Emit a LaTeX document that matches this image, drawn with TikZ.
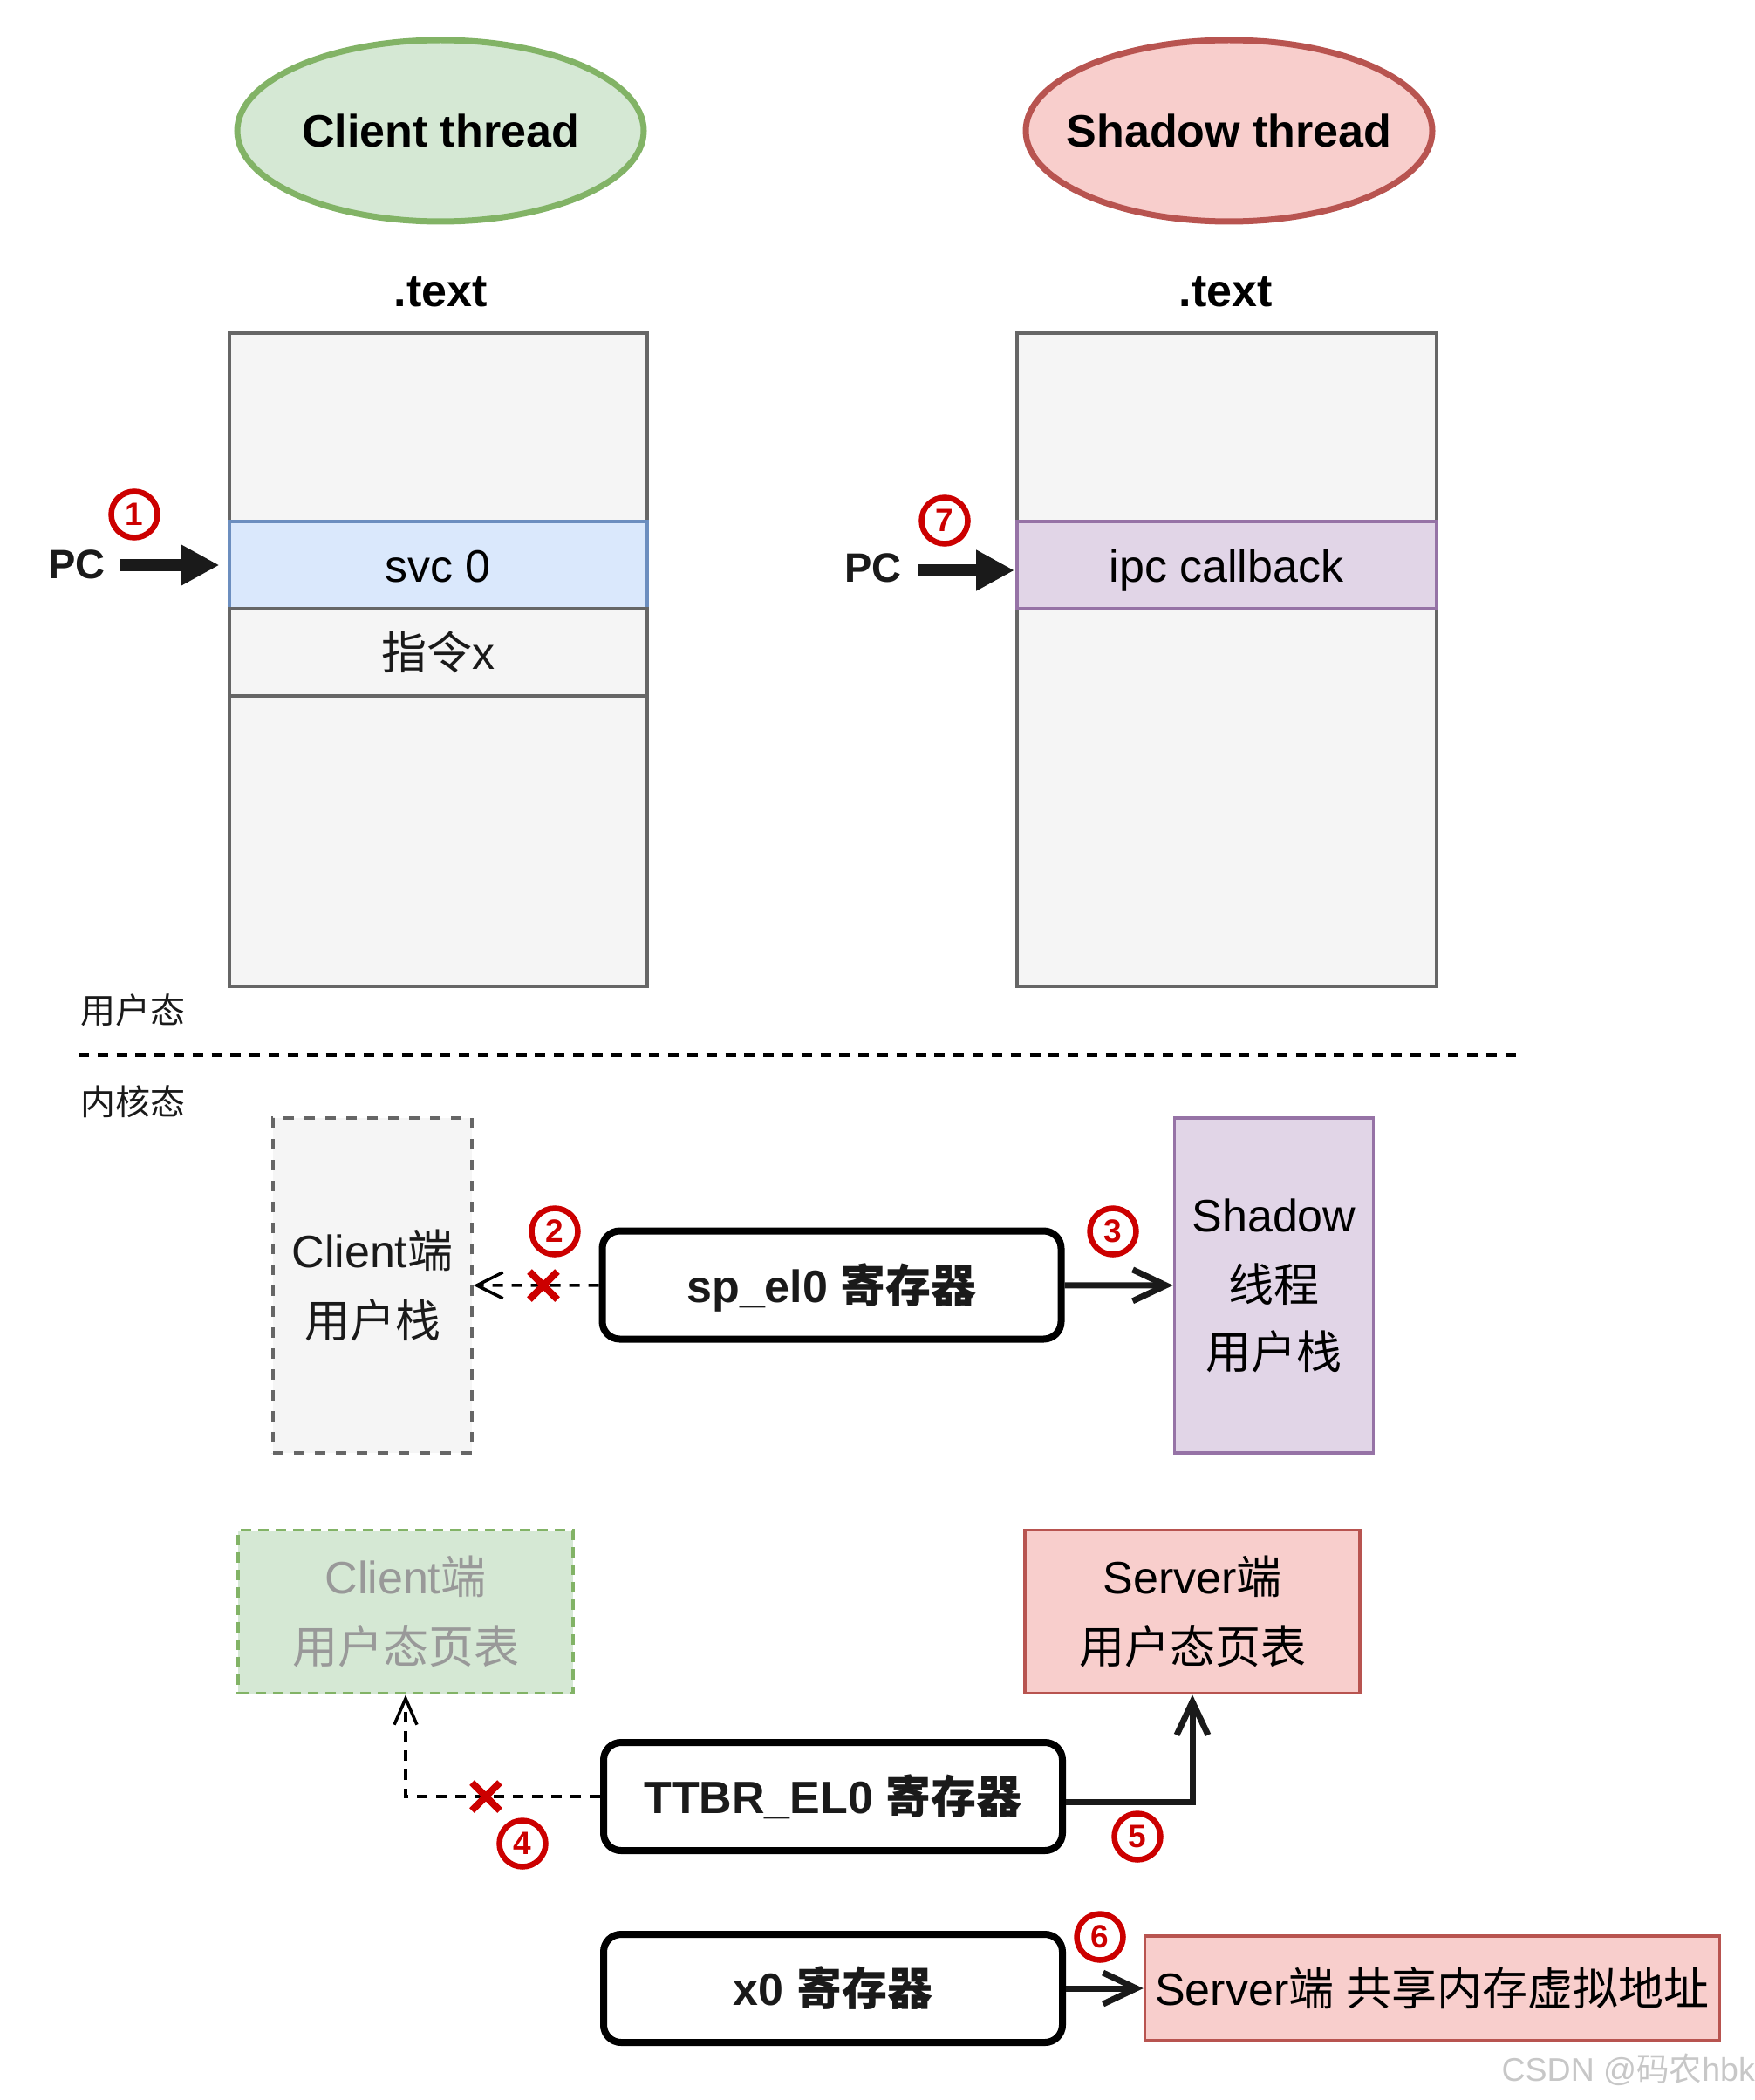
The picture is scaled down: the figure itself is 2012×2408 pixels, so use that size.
\documentclass[tikz,border=0pt]{standalone}
\usepackage{fontspec}
\setmainfont{Liberation Sans}
\newfontfamily\cjk{Noto Sans CJK SC}
\newcommand{\zh}[1]{{\cjk #1}}
\usetikzlibrary{arrows.meta,shapes.misc,shapes.geometric}
\definecolor{greenfill}{HTML}{D5E8D4}
\definecolor{greenline}{HTML}{82B366}
\definecolor{redfill}{HTML}{F8CECC}
\definecolor{redline}{HTML}{B85450}
\definecolor{bluefill}{HTML}{DAE8FC}
\definecolor{blueline}{HTML}{6C8EBF}
\definecolor{purplefill}{HTML}{E1D5E7}
\definecolor{purpleline}{HTML}{9673A6}
\definecolor{greyfill}{HTML}{F5F5F5}
\definecolor{greyline}{HTML}{666666}
\definecolor{marker}{HTML}{CC0000}
\definecolor{ink}{HTML}{1A1A1A}
\tikzset{
  bodytext/.style={font=\fontsize{52}{80}\selectfont, align=center, inner sep=0pt},
  boldtext/.style={font=\fontsize{52}{60}\selectfont\bfseries, inner sep=0pt},
  smalltext/.style={font=\fontsize{40}{48}\selectfont, text=ink, inner sep=0pt},
  thread/.style={ellipse, draw, line width=7pt, minimum width=466pt, minimum height=208pt, boldtext, inner xsep=-70pt},
  codebox/.style={rectangle, draw=greyline, fill=greyfill, line width=4pt, minimum width=479pt, inner sep=0pt, font=\fontsize{52}{60}\selectfont, text height=38pt, text depth=0pt},
  stackbox/.style={rectangle, line width=3.5pt, minimum width=228pt, minimum height=384pt, bodytext},
  pagebox/.style={rectangle, line width=3.5pt, minimum width=384pt, minimum height=187pt, bodytext},
  regbox/.style={rectangle, draw=black, line width=8pt, rounded corners=20pt, minimum width=526pt, minimum height=124pt, boldtext, text=ink, text height=39pt, text depth=0pt},
  num/.style={circle, draw=marker, fill=white, line width=6.5pt, minimum size=53pt, inner sep=0pt, text=marker, font=\fontsize{37}{40}\selectfont\bfseries},
  xmark/.style={cross out, draw=marker, line width=8pt, minimum width=24pt, minimum height=24pt, inner sep=0pt},
  pcarrow/.style={line width=14pt, color=ink, -{Triangle[length=44pt,width=44pt]}},
  solidlink/.style={line width=7pt, color=ink, -{Straight Barb[length=38pt,width=36pt]}},
  dashlink/.style={line width=3.5pt, color=black, dash pattern=on 12pt off 10pt, -{Straight Barb[length=30pt,width=30pt]}},
}
\begin{document}
\begin{tikzpicture}[x=1pt,y=-1pt]
\useasboundingbox (0,0) rectangle (2012,2408);
\node[thread, draw=greenline, fill=greenfill] (client) at (505,150){Client thread};
\node[thread, draw=redline, fill=redfill] (shadow) at (1409,150){Shadow thread};
\node[boldtext] (texta) at (505,335){.text};
\node[boldtext] (textb) at (1405,335){.text};
\node[codebox, minimum height=749pt] (coda) at (502,756.5){};
\node[codebox, minimum height=749pt, minimum width=481pt] (codb) at (1406,756.5){};
\node[codebox, draw=blueline, fill=bluefill, minimum height=100pt] (svc) at (502,648){svc 0};
\node[codebox, minimum height=100pt, text=ink] (instr) at (502,748){\zh{指令}x};
\node[codebox, draw=purpleline, fill=purplefill, minimum height=100pt, minimum width=481pt] (ipc) at (1406,648){ipc callback};
\node[boldtext, font=\fontsize{47}{50}\selectfont\bfseries, text=ink] (pca) at (88,647){PC};
\node[boldtext, font=\fontsize{47}{50}\selectfont\bfseries, text=ink] (pcb) at (1001,651){PC};
\coordinate (pcastart) at (138,648);
\coordinate (pcbstart) at (1052,654);
\coordinate (pcbend) at (1163,654);
\draw[pcarrow, shorten >=9pt](pcastart) -- (svc.west);
\draw[pcarrow](pcbstart) -- (pcbend);
\node[smalltext] (user) at (152,1158){\zh{用户态}};
\node[smalltext] (kernel) at (152,1263){\zh{内核态}};
\coordinate (splita) at (90,1210);
\coordinate (splitb) at (1738,1210);
\draw[line width=3.5pt, dash pattern=on 12pt off 9.81pt](splita) -- (splitb);
\node[stackbox, draw=greyline, fill=greyfill, dash pattern=on 12pt off 12pt, text=ink] (cstack) at (427,1474){Client\zh{端}\\\zh{用户栈}};
\node[stackbox, draw=purpleline, fill=purplefill] (sstack) at (1460.5,1474){Shadow\\\zh{线程}\\[-3pt]\zh{用户栈}};
\node[regbox] (spreg) at (953.5,1473.5){sp\_el0 \zh{寄存器}};
\node[pagebox, draw=greenline, fill=greenfill, dash pattern=on 12pt off 8pt, text=black!40] (cpage) at (465,1848){Client\zh{端}\\\zh{用户态页表}};
\node[pagebox, draw=redline, fill=redfill] (spage) at (1367,1848){Server\zh{端}\\\zh{用户态页表}};
\node[regbox] (ttbr) at (955,2060){TTBR\_EL0 \zh{寄存器}};
\node[regbox] (xreg) at (955,2280){x0 \zh{寄存器}};
\node[rectangle, draw=redline, fill=redfill, line width=3.5pt, minimum width=659pt, minimum height=120pt, bodytext] (shm) at (1642,2280){Server\zh{端} \zh{共享内存虚拟地址}};
\draw[dashlink](spreg) -- (cstack);
\draw[solidlink](spreg) -- (sstack);
\draw[dashlink, -{Straight Barb[length=30pt,width=26pt]}](ttbr) -| (cpage);
\draw[solidlink]([yshift=-6pt]ttbr.east) -| (spage.south);
\draw[solidlink](xreg) -- (shm);
\node[xmark] (xa) at (623,1474){};
\node[xmark] (xb) at (557,2060){};
\node[num] (n1) at (154,590){1};
\node[num] (n2) at (636,1412){2};
\node[num] (n3) at (1276,1412){3};
\node[num] (n4) at (599,2114){4};
\node[num] (n5) at (1304,2106){5};
\node[num] (n6) at (1261,2221){6};
\node[num] (n7) at (1083,597){7};
\node[inner sep=0pt, anchor=east, text=black!22, font=\fontsize{37.5}{40}\selectfont] (mark) at (2012,2373){CSDN @\zh{码农}hbk};
\end{tikzpicture}
\end{document}
